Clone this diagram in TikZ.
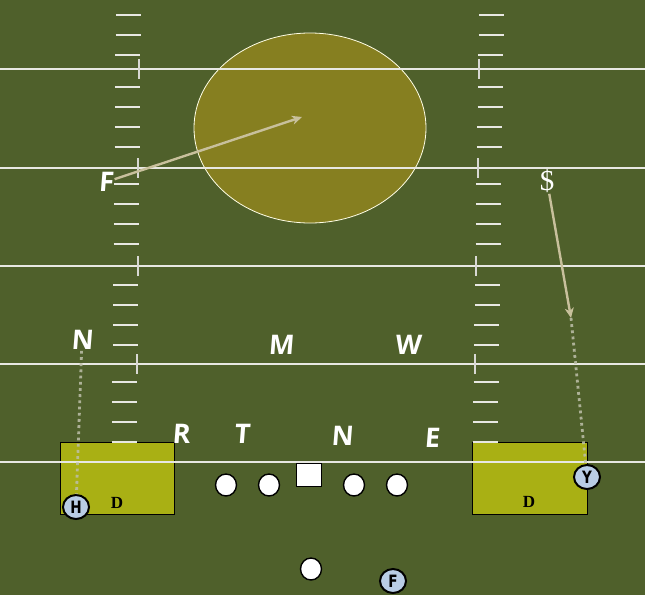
\documentclass[tikz,border=0pt]{standalone}
\usepackage{fontspec}
\setmainfont{Liberation Serif}
\newfontfamily\handfont{Open Sans}[FakeSlant=0.08]
\newfontfamily\capfont{DejaVu Sans}
\usetikzlibrary{arrows.meta,shapes.geometric}
\definecolor{field}{RGB}{79,96,43}
\definecolor{zone}{RGB}{134,127,32}
\definecolor{dbox}{RGB}{169,176,20}
\definecolor{route}{RGB}{200,192,156}
\definecolor{lineclr}{RGB}{232,232,226}
\definecolor{pblue}{RGB}{185,205,229}
\definecolor{dotclr}{RGB}{190,192,170}
\tikzset{
  yardline/.style={draw=lineclr,line width=2.2pt},
  hashmark/.style={draw=lineclr,line width=2pt},
  vtick/.style={draw=lineclr!85!gray,line width=2pt},
  routeline/.style={draw=route,line width=2.4pt,-{Stealth[length=10pt,width=9pt,inset=3pt]}},
  dotline/.style={draw=dotclr,line width=2.8pt,dash pattern=on 2.8pt off 3.4pt,opacity=0.85},
  handtxt/.style={text=white,font=\handfont\bfseries\fontsize{27}{27}\selectfont,inner sep=1pt},
  lineman/.style={ellipse,draw=black,fill=white,line width=1.4pt,minimum width=21pt,minimum height=22pt,inner sep=0pt},
  center/.style={rectangle,draw=black,fill=white,line width=1.4pt,minimum width=25pt,minimum height=23pt,inner sep=0pt},
  skill/.style={ellipse,draw=black,fill=pblue,line width=2pt,minimum width=26pt,minimum height=24pt,inner sep=0pt,font=\capfont\bfseries\fontsize{17}{17}\selectfont},
  zonebox/.style={draw=black,fill=dbox,line width=1pt},
  dtxt/.style={font=\bfseries\fontsize{17}{17}\selectfont,inner sep=0pt}
}
\newcommand\nar[1]{\scalebox{0.8}[1]{#1}}
\begin{document}
\begin{tikzpicture}[x=1pt,y=-1pt]
\useasboundingbox (0,0) rectangle (645,595);
\fill[field] (0,0) rectangle (645,595);
% deep zone
\filldraw[fill=zone,draw=white!90!yellow,line width=0.8pt] (310,128) ellipse [x radius=116,y radius=95];
% D zones
\draw[zonebox] (60,442) rectangle (174,514);
\draw[zonebox] (472,442) rectangle (587,514);
% yard lines
\foreach \y in {69,168,266,364,462} {
  \draw[yardline] (0,\y) -- (645,\y);
}
% hash marks
\foreach \y in {15,35,55,87,107,127,147,184,204,224,244,285,305,325,345,382,402,422,442} {
  \draw[hashmark] ({141-4*\y/430-25},\y) -- ({141-4*\y/430},\y);
  \draw[hashmark] ({504-6*\y/430-25},\y) -- ({504-6*\y/430},\y);
}
\foreach \y in {69,168,266,364} {
  \draw[vtick] ({140-4*\y/430},\y-10) -- ({140-4*\y/430},\y+10);
  \draw[vtick] ({480-6*\y/430},\y-10) -- ({480-6*\y/430},\y+10);
}
% D labels
\node[dtxt] (dL) at (117,503) {D};
\node[dtxt] (dR) at (529,502) {D};
% offense
\node[lineman] (lt) at (226,485) {};
\node[lineman] (lg) at (269,485) {};
\node[center] (c) at (309,475) {};
\node[lineman] (rg) at (354,485) {};
\node[lineman] (rt) at (397,485) {};
\node[lineman] (qb) at (311,569) {};
\node[skill] (H) at (76,507) {\nar{H}};
\node[skill] (Y) at (587,477) {\nar{Y}};
\node[skill] (Fb) at (393,581) {\nar{F}};
% defense labels
\node[handtxt] (lF) at (106,182) {F};
\node[handtxt,font=\fontsize{29}{29}\selectfont] (lS) at (547,181) {\$};
\node[handtxt] (lN) at (82,340) {N};
\node[handtxt] (lM) at (281,345) {M};
\node[handtxt] (lW) at (408,345) {W};
\node[handtxt] (lR) at (181,434) {R};
\node[handtxt] (lT) at (242,434) {T};
\node[handtxt] (lN2) at (342,436) {N};
\node[handtxt] (lE) at (432,438) {E};
% routes
\coordinate (tipF) at (302,117);
\coordinate (tipS) at (571,318);
\draw[routeline] (lF) -- (tipF);
\draw[routeline] (lS) -- (tipS);
\draw[dotline] (tipS) -- (Y);
\draw[dotline] (lN) -- (H);
\end{tikzpicture}
\end{document}
